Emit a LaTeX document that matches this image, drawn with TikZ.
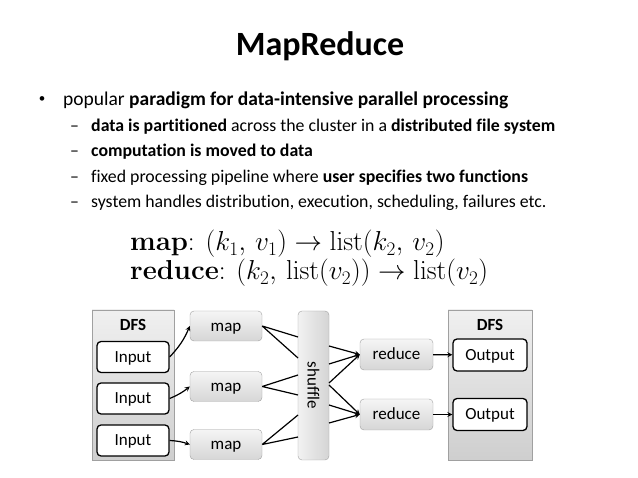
\RequirePackage{fix-cm}
\documentclass[tikz,border=0pt]{standalone}
\usepackage[no-math]{fontspec}
\setmainfont{Carlito}[Ligatures=NoCommon]
\definecolor{boxline}{HTML}{A0A0A0}
\begin{document}
\begin{tikzpicture}
 		[x=1pt,y=-1pt,>=stealth,
 		 dfs/.style={draw=boxline,top color=gray!12,bottom color=gray!38,minimum width=82pt,minimum height=150pt,inner sep=0pt},
 		 file/.style={draw,line width=1.3pt,fill=white,rounded corners=4pt,minimum width=72pt,minimum height=31pt,inner sep=0pt,text height=12pt,text depth=1pt,font=\fontsize{17}{19}\selectfont},
 		 task/.style={draw=boxline,top color=gray!8,bottom color=gray!32,rounded corners=4pt,minimum width=72pt,minimum height=30pt,inner sep=0pt,text height=12pt,text depth=1pt,font=\fontsize{17}{19}\selectfont},
 		 flow/.style={line width=1.2pt}]
 	\useasboundingbox (0,0) rectangle (638,478);
 	% slide text
 	\node[anchor=base,font=\fontsize{34}{40}\selectfont\bfseries] (title) at (320,56) {MapReduce};
 	\node[font=\fontsize{13}{15}\selectfont] (bul) at (42,100) {\textbullet};
 	\node[anchor=base west,inner sep=0pt,font=\fontsize{19.5}{24}\selectfont] (pt0) at (63,106) {popular \textbf{paradigm for data-intensive parallel processing}};
 	\foreach \y/\txt [count=\i] in {132/{\textbf{data is partitioned} across the cluster in a \textbf{distributed file system}},
 		157/{\textbf{computation is moved to data}},
 		183/{fixed processing pipeline where \textbf{user specifies two functions}},
 		208/{system handles distribution, execution, scheduling, failures etc.}}{
 		\node[anchor=base west,inner sep=0pt,font=\fontsize{17.8}{21}\selectfont] (dash\i) at (70,\y) {–};
 		\node[anchor=base west,inner sep=0pt,font=\fontsize{17.8}{21}\selectfont] (pt\i) at (91,\y) {\txt};
 	}
 	\node[anchor=base west,inner sep=0pt,font=\fontsize{27.4}{30}\selectfont] (fmap) at (130,251)
 		{$\mathbf{map}\colon\ (k_1,\,v_1)\rightarrow\mathrm{list}(k_2,\,v_2)$};
 	\node[anchor=base west,inner sep=0pt,font=\fontsize{27.4}{30}\selectfont] (fred) at (130,280)
 		{$\mathbf{reduce}\colon\ (k_2,\,\mathrm{list}(v_2))\rightarrow\mathrm{list}(v_2)$};
 	% diagram
 	\node[dfs] (dfsin) at (133,385) {};
 	\node[dfs,minimum width=84pt] (dfsout) at (490,385) {};
 	\node[anchor=base,font=\fontsize{17}{19}\selectfont\bfseries] (dfsinlbl) at (133,331) {DFS};
 	\node[anchor=base,font=\fontsize{17}{19}\selectfont\bfseries] (dfsoutlbl) at (490,331) {DFS};
 	\node[file] (in1) at (133,357) {Input};
 	\node[file] (in2) at (133,398.5) {Input};
 	\node[file] (in3) at (133,440.5) {Input};
 	\node[task] (map1) at (226,326) {map};
 	\node[task] (map2) at (226,386.5) {map};
 	\node[task] (map3) at (226,444.5) {map};
 	\node[task,left color=gray!10,right color=gray!34,minimum width=31pt,minimum height=149pt,text height=,text depth=] (shuffle) at (313.5,385.5)
 		{\rotatebox{-90}{shuffle}};
 	\node[task,minimum width=73pt,minimum height=31pt] (red1) at (396.5,354.5) {reduce};
 	\node[task,minimum width=73pt,minimum height=31pt] (red2) at (396.5,414.5) {reduce};
 	\node[file,minimum width=74pt,minimum height=32pt] (out1) at (490,355) {Output};
 	\node[file,minimum width=74pt,minimum height=32pt] (out2) at (490,414.5) {Output};
 	% points on the shuffle
 	\foreach \y [count=\i] in {337,358,375,395,415,437}
 		\coordinate (sin\i) at (298,\y);
 	\foreach \y [count=\i] in {346,364,383,385,405,423}
 		\coordinate (sout\i) at (329,\y);
 	\draw[->,flow](in1.east)to[bend right=10](map1.west);
 	\draw[->,flow](in2.east)to[bend right=8](map2.west);
 	\draw[->,flow](in3.east)to[bend left=8](map3.west);
 	\draw[flow](map1.east)--(sin1) (map1.east)--(sin2);
 	\draw[flow](map2.east)--(sin3) (map2.east)--(sin4);
 	\draw[flow](map3.east)--(sin5) (map3.east)--(sin6);
 	\foreach \i in {1,2,3}
 		\draw[->,flow](sout\i)--(red1.west);
 	\foreach \i in {4,5,6}
 		\draw[->,flow](sout\i)--(red2.west);
 	\draw[->,flow](red1)--(out1);
 	\draw[->,flow](red2)--(out2);
 	\end{tikzpicture}
\end{document}
